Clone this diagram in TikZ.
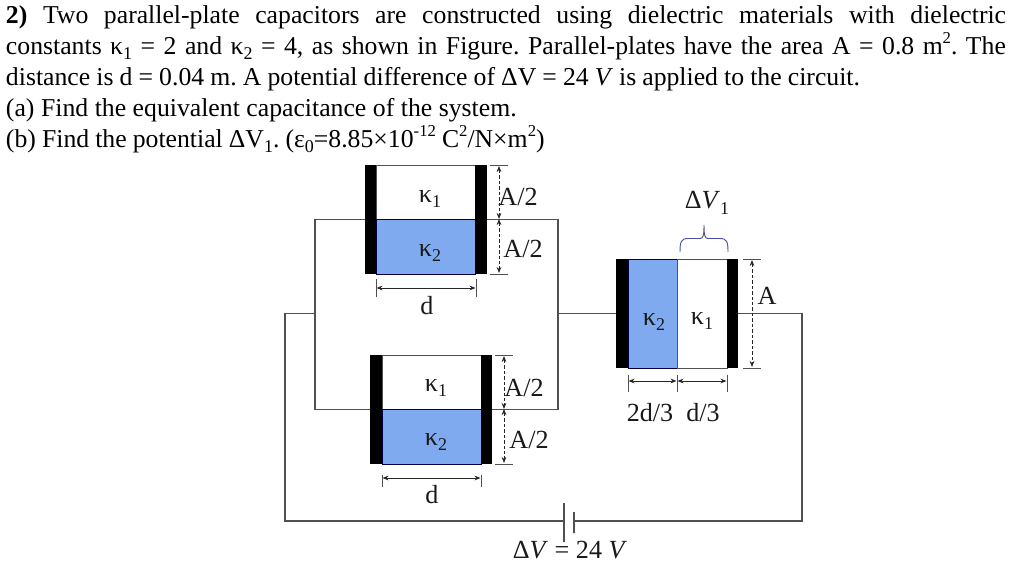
\documentclass[tikz,border=0pt]{standalone}
\usepackage{fontspec}
\setmainfont{Liberation Serif}
\usetikzlibrary{arrows.meta}
\definecolor{fillblue}{HTML}{7FAAEF}
\definecolor{wirecol}{HTML}{505050}
\definecolor{bracecol}{HTML}{4A50A0}
\newcommand{\pxx}{0.75pt}
\newcommand{\ssub}[1]{\raisebox{-0.22em}{\fontsize{13.5pt}{13.5pt}\selectfont #1}}
\newcommand{\ssup}[1]{\raisebox{0.4em}{\fontsize{12.5pt}{12.5pt}\selectfont #1}}
\tikzset{
  x=0.75pt,y=-0.75pt,
  plate/.style={fill=black,draw=none,inner sep=0pt,outer sep=0pt},
  diel/.style={fill=fillblue,draw=black!75!blue,line width=0.5pt,inner sep=0pt,outer sep=0pt},
  empt/.style={fill=white,draw=wirecol,line width=0.7pt,inner sep=0pt,outer sep=0pt},
  wire/.style={draw=wirecol,line width=0.8pt},
  tick/.style={draw=wirecol,line width=0.75pt},
  dimarrow/.style={draw=black!85,line width=0.6pt,{Stealth[length=4.5pt,width=3.5pt]}-{Stealth[length=4.5pt,width=3.5pt]}},
  dasharrow/.style={dimarrow,dash pattern=on 2.6pt off 1.5pt},
  txt/.style={inner sep=0pt,outer sep=0pt,font=\fontsize{19.6pt}{22pt}\selectfont,text=black!90},
  line/.style={anchor=base west,inner sep=0pt,outer sep=0pt,font=\frenchspacing\fontsize{19.3pt}{22pt}\selectfont,text=black},
}
\begin{document}
\begin{tikzpicture}
\useasboundingbox (0,0) rectangle (1010,564);
% text
\node[line] (t1) at (6,23) {\hbox to 750pt{\textbf{2)} Two parallel-plate capacitors are constructed using dielectric materials with dielectric}};
\node[line] (t2) at (6,54) {\hbox to 750pt{constants κ\ssub{1} = 2 and κ\ssub{2} = 4, as shown in Figure. Parallel-plates have the area A = 0.8 m\ssup{2}. The}};
\node[line] (t3) at (6,85) {\hbox to 640.5pt{distance is d = 0.04 m. A potential difference of ΔV = 24 \textit{V} is applied to the circuit.}};
\node[line] (t4) at (6,116) {\hbox to 383pt{(a) Find the equivalent capacitance of the system.}};
\node[line] (t5) at (6,147) {\hbox to 404pt{(b) Find the potential ΔV\ssub{1}. (ε\ssub{0}=8.85×10\ssup{-12} C\ssup{2}/N×m\ssup{2})}};
% top capacitor
\node[empt,minimum width=99*\pxx,minimum height=54*\pxx] (a1) at (425.5,192) {};
\node[diel,minimum width=99*\pxx,minimum height=55*\pxx] (a2) at (425.5,246.5) {};
\node[plate,minimum width=11*\pxx,minimum height=109*\pxx] (al) at (370.5,219.5) {};
\node[plate,minimum width=12*\pxx,minimum height=109*\pxx] (ar) at (481,219.5) {};
\node[txt] (ak1) at (430,199) {κ\ssub{1}};
\node[txt] (ak2) at (430,253) {κ\ssub{2}};
% bottom capacitor
\node[empt,minimum width=99*\pxx,minimum height=54*\pxx] (b1) at (431.5,382) {};
\node[diel,minimum width=99*\pxx,minimum height=55*\pxx] (b2) at (431.5,436.5) {};
\node[plate,minimum width=12*\pxx,minimum height=109*\pxx] (bl) at (376,409.5) {};
\node[plate,minimum width=11*\pxx,minimum height=109*\pxx] (br) at (486.5,409.5) {};
\node[txt] (bk1) at (436,388) {κ\ssub{1}};
\node[txt] (bk2) at (436,442) {κ\ssub{2}};
% right capacitor
\node[diel,minimum width=49*\pxx,minimum height=109*\pxx] (c2) at (652.5,313.5) {};
\node[empt,minimum width=50*\pxx,minimum height=109*\pxx] (c1) at (702,313.5) {};
\node[plate,minimum width=12*\pxx,minimum height=109*\pxx] (cl) at (622,313.5) {};
\node[plate,minimum width=11*\pxx,minimum height=109*\pxx] (cr) at (732.5,313.5) {};
\node[txt] (ck2) at (654,322) {κ\ssub{2}};
\node[txt] (ck1) at (702,321) {κ\ssub{1}};
% wires
\coordinate (jl) at (315,313.5);
\coordinate (jr) at (558,313.5);
\coordinate (ol) at (285,521);
\coordinate (or) at (802,521);
\node[inner sep=0pt,minimum width=0pt,minimum height=39*\pxx,draw=wirecol,line width=0.8pt] (batl) at (564,522.5) {};
\node[inner sep=0pt,minimum width=0pt,minimum height=21*\pxx,draw=wirecol,line width=0.8pt] (bats) at (574,522.5) {};
\draw[wire] (al.west) -| (jl) |- (bl.west);
\draw[wire] (ar.east) -| (jr) |- (br.east);
\draw[wire] (jr) -- (cl.west);
\draw[wire] (jl) -| (ol) -- (batl.center |- ol);
\draw[wire] (cr.east) -| (or) -- (bats.center |- or);
% dimension marks, top
\coordinate (atm) at (499,219);
\draw[tick] (490,165) -- (508,165);
\draw[tick] (490,274) -- (508,274);
\draw[dasharrow] (499,166) -- (atm);
\draw[dasharrow] (atm) -- (499,273);
\node[txt] (aa1) at (518,197) {A/2};
\node[txt] (aa2) at (523,249) {A/2};
\draw[tick] (376,279) -- (376,297);
\draw[tick] (476,279) -- (476,297);
\draw[dimarrow] (376.5,288) -- (475.5,288);
\node[txt] (ad) at (427,306) {d};
% dimension marks, bottom
\coordinate (btm) at (504,409);
\draw[tick] (495,355) -- (513,355);
\draw[tick] (495,464) -- (513,464);
\draw[dasharrow] (504,356) -- (btm);
\draw[dasharrow] (btm) -- (504,463);
\node[txt] (ba1) at (524,388) {A/2};
\node[txt] (ba2) at (529,440) {A/2};
\draw[tick] (382,475) -- (382,487);
\draw[tick] (481,475) -- (481,487);
\draw[dimarrow] (382.5,478) -- (480.5,478);
\node[txt] (bd) at (432,495) {d};
% dimension marks, right
\draw[tick] (743,259) -- (761,259);
\draw[tick] (743,368) -- (761,368);
\draw[dasharrow] (752,260) -- (752,367);
\node[txt] (ca) at (767,296) {A};
\draw[tick] (628,375) -- (628,392);
\draw[tick] (677,375) -- (677,392);
\draw[tick] (727,375) -- (727,392);
\draw[dimarrow] (628.5,381) -- (676.5,381);
\draw[dimarrow] (677.5,381) -- (726.5,381);
\node[txt] (cd1) at (650,413) {2d/3};
\node[txt] (cd2) at (703,413) {d/3};
% brace and labels
\draw[draw=bracecol,line width=0.7pt] (680,252) .. controls (680,242) and (681,238.5) .. (688,238.5) -- (700,238.5) .. controls (703,238.5) and (704,236) .. (704,225) .. controls (704,236) and (705,238.5) .. (708,238.5) -- (720,238.5) .. controls (727,238.5) and (728,242) .. (728,252);
\node[txt] (dv1) at (707,203) {Δ\textit{V}\ssub{1}};
\node[txt] (dv) at (570,550) {Δ\textit{V} = 24 \textit{V}};
\end{tikzpicture}
\end{document}
